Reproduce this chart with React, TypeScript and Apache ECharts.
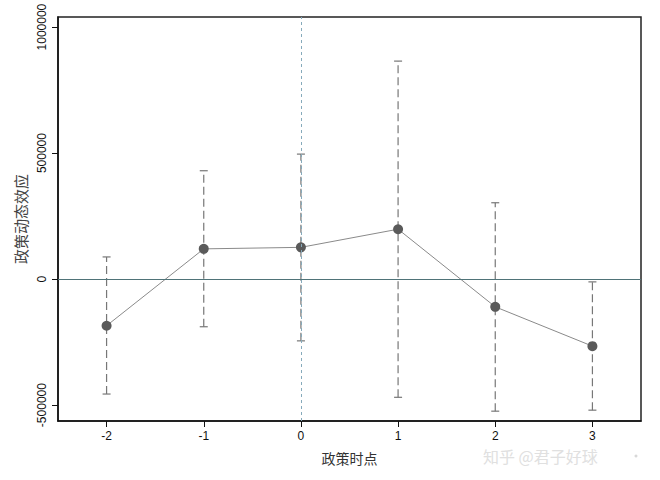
import React, { useEffect, useRef } from "react";
import * as echarts from "echarts";

const periods = [-2, -1, 0, 1, 2, 3];
const coefs = [-185000, 120000, 126000, 198000, -110000, -266000];
const upper = [88000, 430000, 496000, 865000, 303000, -11000];
const lower = [-456000, -189000, -245000, -469000, -524000, -520000];
const xTicks = [-2, -1, 0, 1, 2, 3];
const yTicks = [-500000, 0, 500000, 1000000];

export default function App() {
  const ref = useRef<HTMLDivElement>(null);
  useEffect(() => {
    if (!ref.current) return;
    const chart = echarts.init(ref.current, null, { renderer: "svg" });
    const ciData = periods.map((p, i) => [p, lower[i], upper[i]]);
    const pointData = periods.map((p, i) => [p, coefs[i]]);
    chart.setOption({
      animation: false,
      backgroundColor: "#fff",
      grid: {
        left: 58,
        top: 17,
        width: 583,
        height: 404,
        show: true,
        borderColor: "#222",
        borderWidth: 1.5,
        backgroundColor: "transparent",
      },
      xAxis: {
        type: "value",
        min: -2.5,
        max: 3.5,
        name: "政策时点",
        nameLocation: "middle",
        nameGap: 30,
        nameTextStyle: { fontFamily: "Noto Sans CJK SC", fontSize: 14, color: "#333" },
        axisLine: { show: true, onZero: false, lineStyle: { color: "#111", width: 1.5 } },
        axisTick: { show: true, length: 6, customValues: xTicks, lineStyle: { color: "#111" } },
        axisLabel: {
          customValues: xTicks,
          fontFamily: "Liberation Sans",
          fontSize: 12,
          color: "#111",
          margin: 9,
        },
        splitLine: { show: false },
      },
      yAxis: {
        type: "value",
        min: -563000,
        max: 1040000,
        name: "政策动态效应",
        nameLocation: "middle",
        nameGap: 25,
        nameRotate: 90,
        nameTextStyle: { fontFamily: "Noto Sans CJK SC", fontSize: 15, color: "#444" },
        axisLine: { show: true, onZero: false, lineStyle: { color: "#111", width: 1.5 } },
        axisTick: { show: true, length: 6, customValues: yTicks, lineStyle: { color: "#111" } },
        axisLabel: {
          customValues: yTicks,
          rotate: 90,
          fontFamily: "Liberation Sans",
          fontSize: 12,
          color: "#111",
          margin: 10,
          formatter: (v: number) => String(v),
        },
        splitLine: { show: false },
      },
      series: [
        {
          type: "custom",
          data: ciData,
          z: 2,
          renderItem: (params: any, api: any) => {
            const x = api.value(0);
            const lo = api.coord([x, api.value(1)]);
            const hi = api.coord([x, api.value(2)]);
            const w = 4;
            const style = { stroke: "#777", lineWidth: 1.2 };
            return {
              type: "group",
              children: [
                {
                  type: "line",
                  shape: { x1: lo[0], y1: lo[1], x2: hi[0], y2: hi[1] },
                  style: { ...style, lineDash: [8, 4] },
                },
                {
                  type: "line",
                  shape: { x1: lo[0] - w, y1: lo[1], x2: lo[0] + w, y2: lo[1] },
                  style,
                },
                {
                  type: "line",
                  shape: { x1: hi[0] - w, y1: hi[1], x2: hi[0] + w, y2: hi[1] },
                  style,
                },
              ],
            };
          },
          markLine: {
            silent: true,
            symbol: "none",
            label: { show: false },
            data: [
              { yAxis: 0, lineStyle: { color: "#4f7378", width: 1, type: "solid" } },
              { xAxis: 0, lineStyle: { color: "#86aabb", width: 1, type: [3, 3] } },
            ],
          },
        },
        {
          type: "line",
          data: pointData,
          z: 3,
          symbol: "circle",
          symbolSize: 10,
          lineStyle: { color: "#8a8a8a", width: 1 },
          itemStyle: { color: "#5a5a5a" },
        },
      ],
      graphic: [
        {
          type: "text",
          left: 483,
          top: 448,
          style: {
            text: "知乎 @君子好球",
            fontFamily: "Noto Sans CJK SC",
            fontSize: 16,
            fill: "#e0e0e0",
          },
        },
        {
          type: "circle",
          shape: { cx: 636, cy: 456, r: 1.5 },
          style: { fill: "#d8d8d8" },
        },
      ],
    });
    return () => chart.dispose();
  }, []);
  return (
    <div
      ref={ref}
      style={{ position: "fixed", left: 0, top: 0, width: 660, height: 480 }}
    />
  );
}
